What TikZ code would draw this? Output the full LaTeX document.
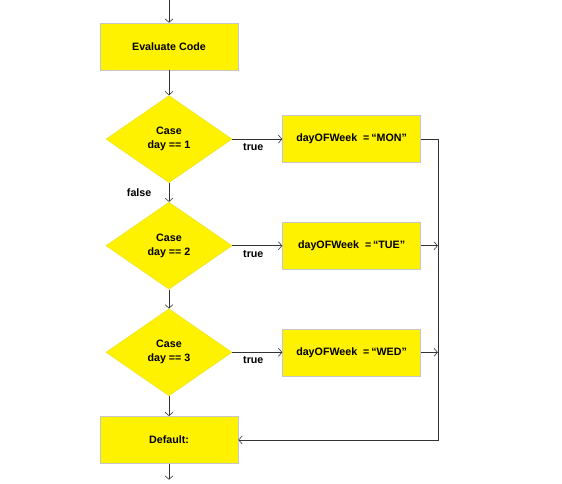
\documentclass[tikz,border=0pt]{standalone}
\usepackage{fontspec}
\setmainfont{Liberation Sans}
\usetikzlibrary{positioning, arrows.meta, shapes.geometric}

\begin{document}
\begin{tikzpicture}[
		->,
		>={Straight Barb[length=3.5pt,width=8pt]},
		line width=0.6pt,
		draw=black!80,
		node distance=25pt,
		font=\fontsize{10.7}{14}\selectfont\bfseries,
		every node/.style={align=center},
		stepbox/.style={rectangle, fill=yellow, draw=gray!45, minimum width=138pt, minimum height=47pt},
		casebox/.style={diamond, fill=yellow, draw=yellow!85!gray, minimum width=126pt, minimum height=87pt, inner sep=0pt}]
	
	\useasboundingbox (0,0) rectangle (562pt,-483pt);
	
	\coordinate (start) at (169pt,0);
	\node[stepbox] (evaluate) at (169pt,-46.5pt) {Evaluate Code};
	\node[casebox, below=25pt of evaluate] (case1) {Case\\day == 1};
	\node[casebox, below=19pt of case1] (case2) {Case\\day == 2};
	\node[casebox, below=19pt of case2] (case3) {Case\\day == 3};
	\node[stepbox, below=20pt of case3] (default) {Default:};
	\coordinate[below=16pt of default] (finish);
	
	\node[stepbox, right=50pt of case1] (mon) {dayOFWeek \ =\,“MON”};
	\node[stepbox, right=50pt of case2] (tue) {dayOFWeek \ =\,“TUE”};
	\node[stepbox, right=50pt of case3] (wed) {dayOFWeek \ =\,“WED”};
	
	\coordinate[right=17pt of mon] (corner);
	\coordinate (tuejoin) at (tue.east -| corner);
	\coordinate (wedjoin) at (wed.east -| corner);
	
	\path	(start) edge (evaluate)
			(evaluate) edge (case1)
			(case1) edge node[left=14pt]{false} (case2)
			(case2) edge (case3)
			(case3) edge (default)
			(default) edge (finish);
	
	\path	(case1) edge node[below=1pt, pos=0.42]{true} (mon)
			(case2) edge node[below=1pt, pos=0.42]{true} (tue)
			(case3) edge node[below=1pt, pos=0.42]{true} (wed);
	
	\path	(tue) edge (tuejoin)
			(wed) edge (wedjoin);
	\draw	(mon.east) -- (corner) |- (default.east);
	
\end{tikzpicture}
\end{document}
